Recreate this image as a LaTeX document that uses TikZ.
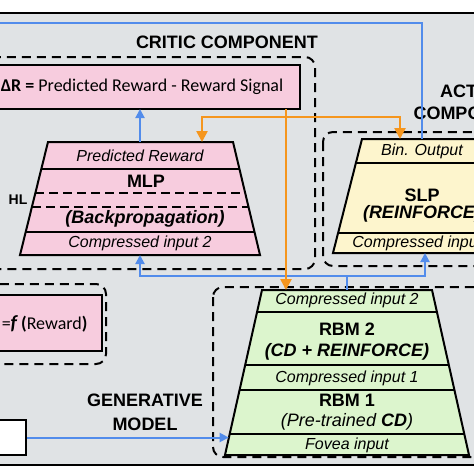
\documentclass[tikz,border=0pt]{standalone}
\usepackage{fontspec}
\setmainfont{Liberation Sans}
\newfontfamily\calib{Carlito}
\usetikzlibrary{positioning, arrows.meta, calc}

\definecolor{bgray}{RGB}{224,227,229}
\definecolor{rpink}{RGB}{247,204,222}
\definecolor{rgreen}{RGB}{220,245,205}
\definecolor{ryellow}{RGB}{253,245,205}
\definecolor{lblue}{RGB}{82,140,235}
\definecolor{lorange}{RGB}{245,150,30}

\begin{document}
\begin{tikzpicture}[x=1pt, y=-1pt, >={Triangle[length=9pt,width=9pt]},
    trap/.style={draw, line width=2pt, line join=miter},
    lay/.style={line width=1.6pt},
    hld/.style={line width=1.6pt, dash pattern=on 9pt off 5pt},
    grp/.style={draw, line width=2pt, dash pattern=on 9pt off 6pt, rounded corners=10pt},
    pbox/.style={draw, line width=2pt, fill=rpink, inner sep=0pt, outer sep=0pt,
                 font=\calib\fontsize{18}{18}\selectfont},
    ti/.style={font=\fontsize{16}{16}\selectfont\itshape},
    tb/.style={font=\fontsize{18}{18}\selectfont\bfseries},
    tbi/.style={font=\fontsize{18}{18}\selectfont\bfseries\itshape},
    grptitle/.style={font=\fontsize{18}{22}\selectfont\bfseries, align=center},
    barr/.style={->, color=lblue, line width=2pt},
    bline/.style={color=lblue, line width=2pt},
    oarr/.style={-{Triangle[length=11pt,width=11pt]}, color=lorange, line width=2.5pt}]
  \useasboundingbox (0,0) rectangle (474,474);
  \clip (0,0) rectangle (474,474);
  \fill[white] (0,0) rectangle (474,474);
  \fill[bgray] (0,13) rectangle (474,465);
  \draw[line width=2pt] (0,13) -- (474,13);
  \draw[line width=2pt] (0,465) -- (474,465);

  % components
  \draw[grp] (-20,57) rectangle (315,269);
  \draw[grp] (323,132) rectangle (500,266);
  \draw[grp] (213,287) rectangle (500,457);
  \draw[grp] (-20,284) rectangle (106,364);
  \node[grptitle] (crit) at (227,42) {CRITIC COMPONENT};
  \node[grptitle] (act) at (472,102) {ACTOR\\COMPONENT};
  \node[grptitle, font=\fontsize{18}{24}\selectfont\bfseries] (gen) at (145,412) {GENERATIVE\\MODEL};

  % boxes
  \node[pbox, minimum width=316pt, minimum height=44pt] (dr) at (142,87)
        {\textbf{ΔR =} Predicted Reward - Reward Signal};
  \node[pbox, minimum width=122pt, minimum height=56pt] (rw) at (41,323) {};
  \node[anchor=east, font=\calib\fontsize{18}{18}\selectfont] (rwt) at (91,324)
        {={\fontsize{20}{20}\selectfont\textbf{\textit{f}}}\,\textbf{(}Reward\textbf{)}};
  \node[draw, line width=2pt, fill=white, minimum width=46pt, minimum height=35pt,
        inner sep=0pt] (img) at (3,437.5) {};

  % networks
  \coordinate (mlptl) at (48,142);  \coordinate (mlptr) at (233,142);
  \coordinate (mlpbl) at (20,255);  \coordinate (mlpbr) at (260,255);
  \coordinate (mlptop) at (140,142); \coordinate (mlpbot) at (140,255);
  \coordinate (slptl) at (362,139); \coordinate (slptr) at (482,139);
  \coordinate (slpbl) at (333,253); \coordinate (slpbr) at (511,253);
  \coordinate (slptop) at (422,139); \coordinate (slpbot) at (422,253);
  \coordinate (rbmtl) at (262,290); \coordinate (rbmtr) at (432,290);
  \coordinate (rbmbl) at (225,455); \coordinate (rbmbr) at (469,455);
  \coordinate (rbmtop) at (347,290);

  \draw[trap, fill=rpink] (mlpbl) -- (mlptl) -- (mlptr) -- (mlpbr) -- cycle;
  \draw[trap, fill=ryellow] (slpbl) -- (slptl) -- (slptr) -- (slpbr) -- cycle;
  \draw[trap, fill=rgreen] (rbmbl) -- (rbmtl) -- (rbmtr) -- (rbmbr) -- cycle;

  \foreach \t in {0.239,0.796}
    \draw[lay] ($(mlptl)!\t!(mlpbl)$) -- ($(mlptr)!\t!(mlpbr)$);
  \foreach \t in {0.451,0.575}
    \draw[hld] ($(mlptl)!\t!(mlpbl)$) -- ($(mlptr)!\t!(mlpbr)$);
  \foreach \t in {0.2105,0.8246}
    \draw[lay] ($(slptl)!\t!(slpbl)$) -- ($(slptr)!\t!(slpbr)$);
  \foreach \t in {0.1333,0.4545,0.6061,0.8727}
    \draw[lay] ($(rbmtl)!\t!(rbmbl)$) -- ($(rbmtr)!\t!(rbmbr)$);

  \node[ti] (prw) at (140,156) {Predicted Reward};
  \node[tb] (mlpn) at (146,181) {MLP};
  \node[tbi] (bprop) at (145,219) {(Backpropagation)};
  \node[ti] (cin2a) at (140,243) {Compressed input 2};
  \node[font=\fontsize{14}{14}\selectfont\bfseries] (hl) at (18,200) {HL};

  \node[ti] (bout) at (422,151) {Bin. Output};
  \node[tb] (slpn) at (422,195) {SLP};
  \node[tbi] (reinf) at (422,214) {(REINFORCE)};
  \node[ti] (cin2b) at (424,243) {Compressed input 2};

  \node[ti] (cin2c) at (347,300) {Compressed input 2};
  \node[tb] (rbm2) at (347,329) {RBM 2};
  \node[tbi] (cdr) at (347,352) {(CD + REINFORCE)};
  \node[ti] (cin1) at (347,378) {Compressed input 1};
  \node[tb] (rbm1) at (347,400) {RBM 1};
  \node[font=\fontsize{18}{18}\selectfont\itshape] (pre) at (347,422) {(Pre-trained \textbf{CD})};
  \node[ti] (fov) at (347,445) {Fovea input};

  % connectors
  \coordinate (fb) at (-10,23);
  \coordinate (err) at ($(dr.south east)+(-14,0)$);
  \coordinate (split) at ($(err)+(0,8)$);
  \coordinate (hub) at ($(rbmtop)+(0,-14)$);
  \coordinate (rbmin) at ($(rbmtl)!0.9!(rbmbl)$);

  \draw[bline] (slptop) |- (fb);
  \draw[barr] (mlptop) -- (mlptop |- dr.south);
  \draw[barr] (rbmtop) -- (hub) -| (mlpbot);
  \draw[barr] (hub) -| ($(slpbot)+(3,0)$);
  \draw[barr] (img.east) -- (img.east -| rbmin);
  \draw[oarr] (err) -- (err |- rbmtop);
  \draw[oarr] (split) -| ($(mlptop)+(62,0)$);
  \draw[oarr] (split) -| ($(slptop)+(-22,0)$);
\end{tikzpicture}
\end{document}
